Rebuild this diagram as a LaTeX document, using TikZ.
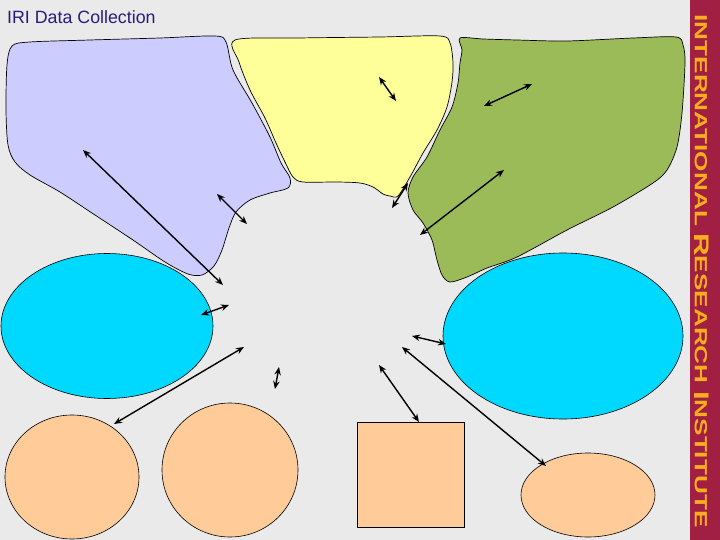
\documentclass[tikz,border=0pt]{standalone}
\usepackage{fontspec}
\setmainfont{Liberation Sans}
\usetikzlibrary{arrows.meta,shapes.geometric}
\definecolor{bg}{HTML}{EAEAEA}
\definecolor{band}{HTML}{A01F42}
\definecolor{bandtext}{HTML}{F7AE1E}
\definecolor{titlec}{HTML}{2C1A7E}
\definecolor{lav}{HTML}{CCCCFF}
\definecolor{yel}{HTML}{FFFF99}
\definecolor{grn}{HTML}{9BBB59}
\definecolor{cyn}{HTML}{00D9FF}
\definecolor{pch}{HTML}{FFCC99}
\tikzset{
  blob/.style={draw=black, line width=0.7pt},
  shp/.style={draw=black, line width=0.6pt, inner sep=0pt},
  ell/.style={shp, ellipse},
  dbl/.style={{Stealth[length=8pt,width=6.5pt]}-{Stealth[length=8pt,width=6.5pt]}, line width=1.4pt},
}
\begin{document}
\begin{tikzpicture}[x=1pt,y=-1pt]
\useasboundingbox (0,0) rectangle (720,540);
\fill[bg] (0,0) rectangle (720,540);
\fill[band] (690,0) rectangle (720,540);
\node[rotate=-90, text=bandtext, inner sep=0pt] (bandtxt) at (702,271)
  {\resizebox{513pt}{14.5pt}{\bfseries I\fontsize{10}{12}\selectfont NTERNATIONAL\ \fontsize{12}{14}\selectfont R\fontsize{10}{12}\selectfont ESEARCH\ \fontsize{12}{14}\selectfont I\fontsize{10}{12}\selectfont NSTITUTE}};
\node[anchor=base west, text=titlec, inner sep=0pt, font=\fontsize{17.8}{20}\selectfont] (title) at (7,24) {IRI Data Collection};

% lavender
\draw[blob, fill=lav] plot[smooth cycle, tension=0.5] coordinates {
 (12,46) (30,42) (90,40) (160,38) (215,36) (226,42) (233,70) (252,103) (270,137) (281,163) (290,178)
 (288,188) (270,193) (250,200) (236,212) (229,228) (222,250) (214,266) (202,275) (188,274)
 (165,262) (133,240) (95,215) (60,192) (30,175) (15,162) (8,145) (6,110) (7,65)};
% yellow
\draw[blob, fill=yel] plot[smooth cycle, tension=0.5] coordinates {
 (235,40) (300,38) (380,37) (440,36) (450,43) (453,63) (452,82) (447,107) (437,130) (423,153)
 (410,177) (398,196) (390,196) (383,194) (373,187) (360,183) (337,182) (303,182) (293,177)
 (285,162) (276,143) (265,118) (250,90) (239,62)};
% green
\draw[blob, fill=grn] plot[smooth cycle, tension=0.5] coordinates {
 (460,38) (462,50) (460,63) (458,83) (452,107) (440,130) (427,157) (413,177) (408,193) (413,210)
 (423,223) (432,240) (437,260) (442,275) (450,282) (467,277) (487,268) (517,257) (567,230)
 (613,207) (653,183) (667,170) (677,147) (682,113) (685,63) (683,45) (676,37) (633,38)
 (567,41) (517,40) (483,39)};

% ellipses and box
\node[ell, fill=cyn, minimum width=212pt, minimum height=145pt] (cl) at (107,326) {};
\node[ell, fill=cyn, minimum width=240pt, minimum height=166pt] (cr) at (563,336) {};
\node[ell, fill=pch, minimum width=134pt, minimum height=124pt] (p1) at (72,477) {};
\node[ell, fill=pch, minimum width=136pt, minimum height=134pt] (p2) at (230,470) {};
\node[shp, fill=pch, minimum width=107pt, minimum height=105pt] (bx) at (410.5,474.5) {};
\node[ell, fill=pch, minimum width=134pt, minimum height=84pt] (p3) at (588,495) {};

% arrow end points
\coordinate (a1s) at (83,150);  \coordinate (a1e) at (223,285);
\coordinate (a2s) at (217,194); \coordinate (a2e) at (247,224);
\coordinate (a3s) at (379,77);  \coordinate (a3e) at (396,101);
\coordinate (a4s) at (392,208); \coordinate (a4e) at (408,183);
\coordinate (a5s) at (484,106); \coordinate (a5e) at (532,84);
\coordinate (a6s) at (420,235); \coordinate (a6e) at (504,170);
\coordinate (a7s) at (201,315); \coordinate (a7e) at (229,305);
\coordinate (a8s) at (114,424); \coordinate (a8e) at (244,347);
\coordinate (a9s) at (279,367); \coordinate (a9e) at (275,389);
\coordinate (a10s) at (412,336); \coordinate (a10e) at (446,344);
\coordinate (a11s) at (379,365); \coordinate (a11e) at (419,422);
\coordinate (a12s) at (402,347); \coordinate (a12e) at (546,466);

\foreach \i in {1,...,12} \draw[dbl] (a\i s) -- (a\i e);
\end{tikzpicture}
\end{document}
